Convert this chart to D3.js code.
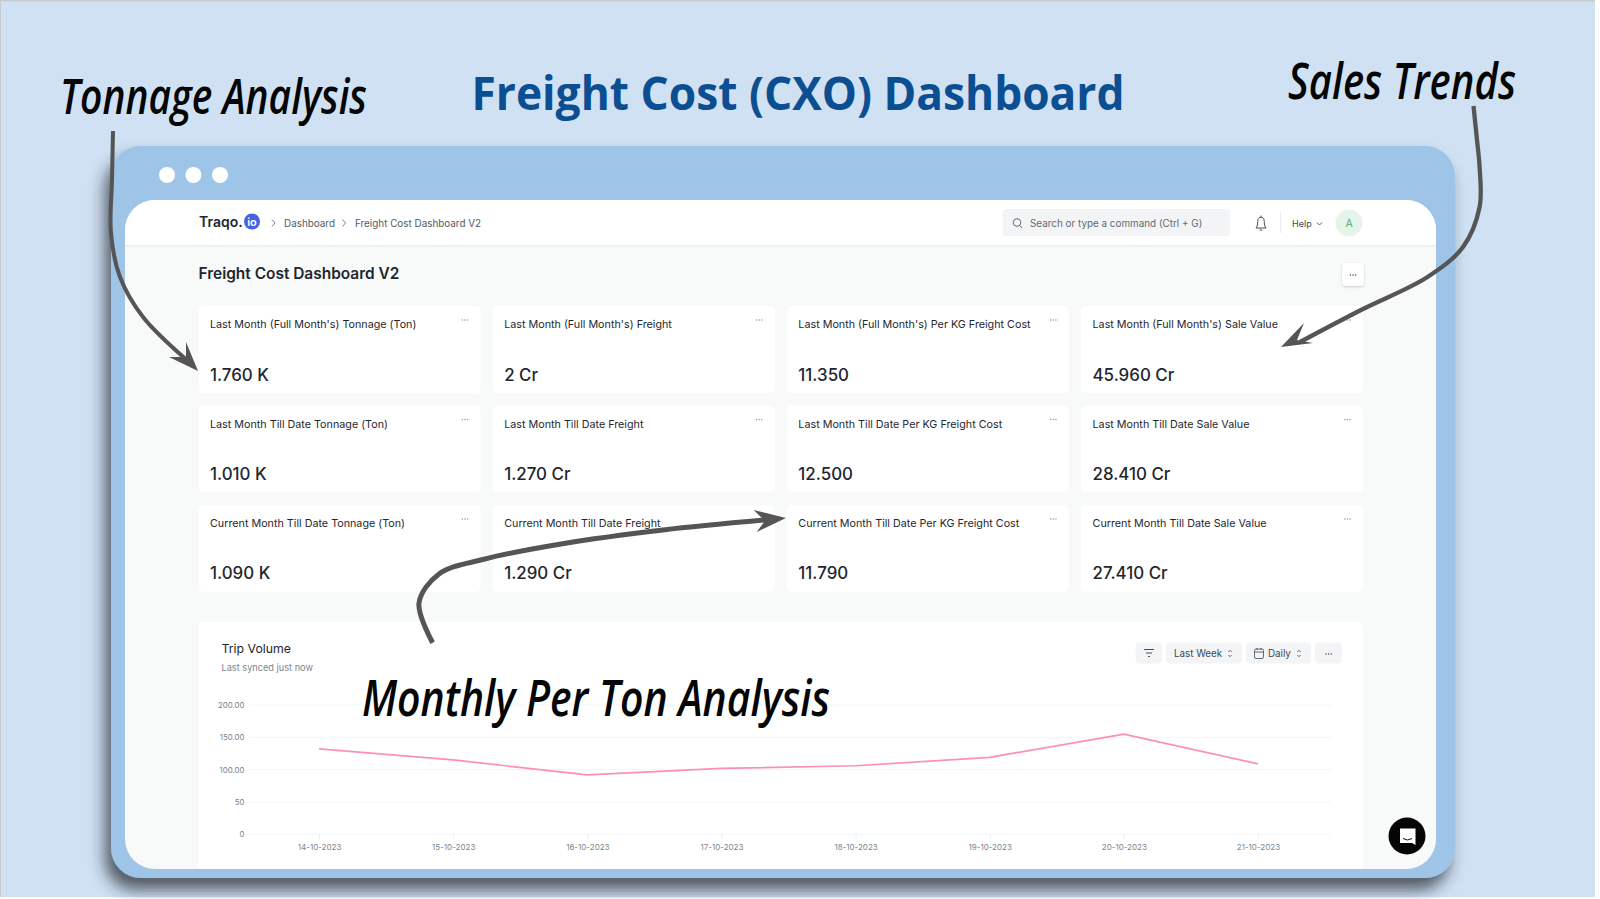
<!DOCTYPE html>
<html><head><meta charset="utf-8">
<script src="https://cdn.jsdelivr.net/npm/d3@7/dist/d3.min.js"></script>
<style>html,body{margin:0;padding:0;background:#fff}svg{display:block}text{font-family:Inter,sans-serif}</style>
</head><body><div id="c"></div>
<script>
// ---- data ----
const cardRowLabels = ["Last Month (Full Month's)", "Last Month Till Date", "Current Month Till Date"];
const cardMetrics = ["Tonnage (Ton)", "Freight", "Per KG Freight Cost", "Sale Value"];
const cardValues = [
  ["1.760 K", "2 Cr", "11.350", "45.960 Cr"],
  ["1.010 K", "1.270 Cr", "12.500", "28.410 Cr"],
  ["1.090 K", "1.290 Cr", "11.790", "27.410 Cr"]
];
const tripDates = ["14-10-2023","15-10-2023","16-10-2023","17-10-2023","18-10-2023","19-10-2023","20-10-2023","21-10-2023"];
const tripValues = [132,115,92,102,106,119,155,109];
const yTickValues = [0,50,100,150,200];
const yTickLabels = ["0","50","100.00","150.00","200.00"];
const breadcrumbs = ["Dashboard","Freight Cost Dashboard V2"];

const W=1600,H=899;
const svg=d3.select("#c").append("svg").attr("width",W).attr("height",H).attr("viewBox",`0 0 ${W} ${H}`);
const defs=svg.append("defs");
const sh=defs.append("filter").attr("id","frameShadow").attr("x","-10%").attr("y","-10%").attr("width","120%").attr("height","125%");
sh.append("feDropShadow").attr("dx",-6).attr("dy",12).attr("stdDeviation",8).attr("flood-color","#2c2f36").attr("flood-opacity",0.75);
const sh2=defs.append("filter").attr("id","btnShadow").attr("x","-30%").attr("y","-30%").attr("width","160%").attr("height","170%");
sh2.append("feDropShadow").attr("dx",0).attr("dy",1).attr("stdDeviation",1).attr("flood-color","#000").attr("flood-opacity",0.18);
defs.append("clipPath").attr("id","innerClip").append("rect").attr("x",125).attr("y",200).attr("width",1311).attr("height",669).attr("rx",30);

// page background
svg.append("rect").attr("width",W).attr("height",H).attr("fill","#fff");
svg.append("rect").attr("width",1595).attr("height",897).attr("fill","#cfe1f3");
svg.append("rect").attr("width",1595).attr("height",1.5).attr("fill","#c6cbcf");
svg.append("rect").attr("width",1).attr("height",897).attr("fill","#c6cbcf");

// window frame
svg.append("rect").attr("x",111).attr("y",146).attr("width",1344).attr("height",732).attr("rx",30).attr("fill","#9ec4e8").attr("filter","url(#frameShadow)");
svg.selectAll("circle.dot").data([167,193.4,220]).join("circle").attr("class","dot").attr("cx",d=>d).attr("cy",175).attr("r",8).attr("fill","#fff");

const inner=svg.append("g").attr("clip-path","url(#innerClip)");
inner.append("rect").attr("x",125).attr("y",200).attr("width",1311).attr("height",669).attr("fill","#f8f9f9");
inner.append("rect").attr("x",125).attr("y",200).attr("width",1311).attr("height",45).attr("fill","#fff");
inner.append("rect").attr("x",125).attr("y",245).attr("width",1311).attr("height",1.6).attr("fill","#eceeee");

// header
const tx=(sel,x,y,s,size,fill,weight,anchor)=>sel.append("text").attr("x",x).attr("y",y).text(s).attr("font-size",size).attr("fill",fill).attr("font-weight",weight||400).attr("text-anchor",anchor||"start");
tx(inner,199,227,"Traqo.",14,"#1f272e",600);
inner.append("circle").attr("cx",252).attr("cy",221.5).attr("r",8).attr("fill","#4463e0");
tx(inner,252,225.5,"io",11,"#fff",600,"middle");
const chev=(sel,x,y)=>sel.append("path").attr("d",`M${x-1.5},${y-3.5}L${x+1.5},${y}L${x-1.5},${y+3.5}`).attr("fill","none").attr("stroke","#6b7280").attr("stroke-width",0.9);
chev(inner,273.5,223);
tx(inner,284,227,breadcrumbs[0],9.9,"#525c66");
chev(inner,344,223);
tx(inner,355,227,breadcrumbs[1],9.9,"#525c66");
inner.append("rect").attr("x",1002.5).attr("y",209).attr("width",228).attr("height",27).attr("rx",4).attr("fill","#f3f4f6");
inner.append("circle").attr("cx",1017).attr("cy",222.5).attr("r",3.8).attr("fill","none").attr("stroke","#525c66").attr("stroke-width",0.9);
inner.append("path").attr("d","M1019.8,225.5L1022,228").attr("stroke","#525c66").attr("stroke-width",0.9);
tx(inner,1030,227,"Search or type a command (Ctrl + G)",9.9,"#606a74");
inner.append("path").attr("d","M1256,228C1258,226 1257.5,222 1258,219.5C1258.5,216.5 1263.5,216.5 1264,219.5C1264.5,222 1264,226 1266,228ZM1259.5,230H1262.5M1261,215.5V217").attr("fill","none").attr("stroke","#333c44").attr("stroke-width",0.9);
inner.append("rect").attr("x",1280.3).attr("y",212).attr("width",0.8).attr("height",21).attr("fill","#e2e4e6");
tx(inner,1292,227,"Help",9.1,"#404a54");
inner.append("path").attr("d","M1317,222.5L1319.5,225L1322,222.5").attr("fill","none").attr("stroke","#404a54").attr("stroke-width",0.9);
inner.append("circle").attr("cx",1349).attr("cy",223).attr("r",13.5).attr("fill","#e6f4ea");
tx(inner,1349,227,"A",10.5,"#4caf6e",400,"middle");

// dashboard title
tx(inner,198.5,279,"Freight Cost Dashboard V2",15.45,"#1f272e",600);
inner.append("rect").attr("x",1342).attr("y",263).attr("width",22).attr("height",23).attr("rx",4).attr("fill","#fff").attr("filter","url(#btnShadow)");
const dots=(sel,x,y,c)=>sel.append("g").selectAll("circle").data([-2.6,0,2.6]).join("circle").attr("cx",d=>x+d).attr("cy",y).attr("r",0.7).attr("fill",c||"#555");
dots(inner,1353,275,"#333c44");

// metric cards
const colX=d3.scaleBand().domain(d3.range(cardMetrics.length)).range([198.5,1363]).paddingInner(0.0415);
const rowY=d3.scaleBand().domain(d3.range(cardRowLabels.length)).range([306,592]).paddingInner(0.125);
cardRowLabels.forEach((rowLabel,r)=>{
  cardMetrics.forEach((metric,c)=>{
    const g=inner.append("g").attr("transform",`translate(${colX(c)},${rowY(r)})`);
    g.append("rect").attr("width",colX.bandwidth()).attr("height",rowY.bandwidth()).attr("rx",5).attr("fill","#fff");
    tx(g,11.5,22.3,`${rowLabel} ${metric}`,10.75,"#1f272e",400);
    tx(g,11.5,74.5,cardValues[r][c],16.9,"#1f272e",500);
    dots(g,colX.bandwidth()-15.5,14,"#8a9099");
  });
});

// chart card
const cc=inner.append("g");
cc.append("rect").attr("x",198.5).attr("y",622).attr("width",1164.5).attr("height",260).attr("rx",5).attr("fill","#fff");
tx(cc,221.5,653.3,"Trip Volume",12.3,"#1f272e",400);
tx(cc,221.5,671,"Last synced just now",9.2,"#7c858e",400);

const ctrl=[[1135.7,26.5],[1166,76],[1246,65],[1315,27]];
cc.selectAll("rect.ctrl").data(ctrl).join("rect").attr("class","ctrl").attr("x",d=>d[0]).attr("y",642.5).attr("width",d=>d[1]).attr("height",21).attr("rx",4).attr("fill","#f3f4f6");
cc.append("path").attr("d","M1144,649.5H1154M1146,653H1152M1148,656.5H1150").attr("stroke","#333c44").attr("stroke-width",0.9);
tx(cc,1174,657,"Last Week",9.8,"#404a54");
const updown=(x,y)=>cc.append("path").attr("d",`M${x-1.6},${y-1.5}L${x},${y-3.2}L${x+1.6},${y-1.5}M${x-1.6},${y+1.5}L${x},${y+3.2}L${x+1.6},${y+1.5}`).attr("fill","none").attr("stroke","#404a54").attr("stroke-width",0.8);
updown(1230,653.5);
cc.append("rect").attr("x",1254.5).attr("y",649).attr("width",9).attr("height",9.5).attr("rx",1.5).attr("fill","none").attr("stroke","#404a54").attr("stroke-width",0.8);
cc.append("path").attr("d","M1254.5,652H1263.5M1257,648V650M1261,648V650").attr("stroke","#404a54").attr("stroke-width",0.8);
tx(cc,1268,657,"Daily",9.8,"#404a54");
updown(1299,653.5);
dots(cc,1328.6,654,"#404a54");

// line chart
const x=d3.scalePoint().domain(tripDates).range([252,1325]).padding(0.5);
const y=d3.scaleLinear().domain([0,200]).range([834.3,705]);
const yAxis=d3.axisLeft(y).tickValues(yTickValues).tickFormat((d,i)=>yTickLabels[i]).tickSize(0).tickPadding(4.5);
const gy=cc.append("g").attr("transform","translate(249,0)").call(yAxis);
gy.select(".domain").remove();
gy.selectAll("text").attr("font-size",7.9).attr("fill","#7c848c").attr("font-family","Inter");
cc.append("g").selectAll("line").data(yTickValues).join("line").attr("x1",249).attr("x2",1331).attr("y1",d=>y(d)).attr("y2",d=>y(d)).attr("stroke","#f3f4f5").attr("stroke-width",1);
const xAxis=d3.axisBottom(x).tickSize(5).tickPadding(5);
const gx=cc.append("g").attr("transform","translate(0,834.3)").call(xAxis);
gx.select(".domain").remove();
gx.selectAll("line").attr("stroke","#eceeef");
gx.selectAll("text").attr("font-size",8).attr("fill","#7c848c").attr("font-family","Inter");
const line=d3.line().x((d,i)=>x(tripDates[i])).y(d=>y(d));
cc.append("path").datum(tripValues).attr("d",line).attr("fill","none").attr("stroke","#fb8fb5").attr("stroke-width",1.7);

// chat bubble
svg.append("ellipse").attr("cx",1407).attr("cy",836).attr("rx",18.5).attr("ry",18.5).attr("fill","#050505");
svg.append("path").attr("d","M1400,828.5H1415.5V845L1412,843H1400Z").attr("fill","#fff");
svg.append("path").attr("d","M1403,838.5Q1407.5,841.5 1412,838.5").attr("fill","none").attr("stroke","#111").attr("stroke-width",1);

// title
svg.append("text").attr("x",471.5).attr("y",110).text("Freight Cost (CXO) Dashboard").attr("font-size",47).attr("font-weight",700).attr("fill","#0b4f92").style("font-family","'Open Sans'").attr("textLength",653).attr("lengthAdjust","spacingAndGlyphs");

// hand-written labels
const hand=(s,xx,yy,len,size)=>svg.append("text").attr("x",xx).attr("y",yy).text(s).attr("font-size",size).attr("font-style","italic").attr("font-weight",600).attr("fill","#050505").style("font-family","'Open Sans'").attr("textLength",len).attr("lengthAdjust","spacingAndGlyphs");
hand("Tonnage Analysis",60,114,307,48);
hand("Sales Trends",1288,99,228,50);
hand("Monthly Per Ton Analysis",362,716,468,50);

// arrows
const curve=d3.line().curve(d3.curveCatmullRom.alpha(0.5));
const arrow=(pts,head,w)=>{
  svg.append("path").attr("d",curve(pts)).attr("fill","none").attr("stroke","#555").attr("stroke-width",w);
  svg.append("path").attr("d","M"+head.join("L")+"Z").attr("fill","#555");
};
arrow([[113,131],[112,180],[111,233],[120,277],[143,317],[189,362]],[[186,342],[198,371],[169,357],[186,357]],4);
arrow([[1473.5,106],[1477,140],[1479.6,167],[1479.6,207],[1463,247],[1427.5,277],[1361,310],[1300,342]],[[1304,323],[1281,347],[1313,343],[1297,340]],4.3);
arrow([[432.6,642.7],[419,603],[439,574],[485,559],[561,544],[663,530],[765,520]],[[753.6,510],[786,518],[756.6,532],[765,521]],5);
</script></body></html>
